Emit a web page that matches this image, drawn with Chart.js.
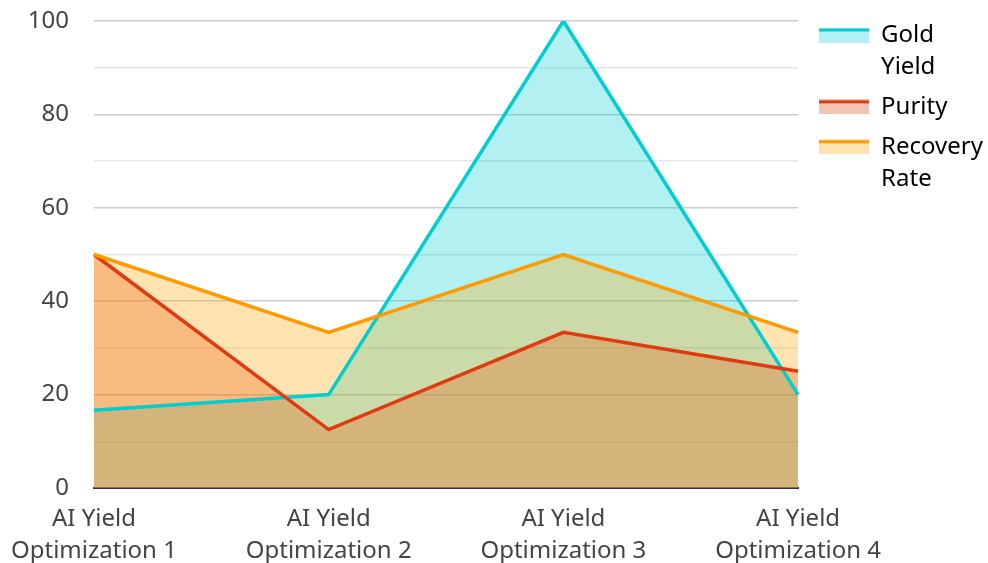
<!DOCTYPE html>
<html>
<head>
<meta charset="utf-8">
<script src="https://cdn.jsdelivr.net/npm/chart.js@4"></script>
<style>
  html, body { margin: 0; padding: 0; background: #fff; }
  #wrap { width: 988px; height: 563px; }
</style>
</head>
<body>
<div id="wrap"><canvas id="chart"></canvas></div>
<script>
var categories = [
    ['AI Yield', 'Optimization 1'],
    ['AI Yield', 'Optimization 2'],
    ['AI Yield', 'Optimization 3'],
    ['AI Yield', 'Optimization 4']
];
var goldYield = [16.67, 20, 100, 20];
var purity = [50, 12.5, 33.33, 25];
var recoveryRate = [50, 33.33, 50, 33.33];
var seriesNames = ['Gold Yield', 'Purity', 'Recovery Rate'];

var lineColors = ['#00CED1', '#E03A10', '#FF9900'];
var fillColors = ['rgba(0,206,209,0.3)', 'rgba(224,58,16,0.3)', 'rgba(255,165,0,0.3)'];

// legend swatch: thick line on top, light fill below
function makeSwatch(line, fill) {
    var c = document.createElement('canvas');
    c.width = 50;
    c.height = 15;
    var g = c.getContext('2d');
    g.fillStyle = fill;
    g.fillRect(0, 0, 50, 15);
    g.fillStyle = line;
    g.fillRect(0, 1, 50, 3);
    return c;
}

// push the legend a bit away from the plot, like the reference
var legendShift = {
    id: 'legendShift',
    afterInit: function (chart) {
        var lg = chart.legend;
        var fit = lg.fit;
        lg.fit = function () {
            fit.call(this);
            this.width += 8;
        };
        var draw = lg.draw;
        lg.draw = function () {
            var c = this.ctx;
            c.save();
            c.translate(13, 15);
            draw.call(this);
            c.restore();
        };
    }
};

Chart.defaults.font.family = '"Noto Sans", "Open Sans", sans-serif';
Chart.defaults.color = '#444';

var ctx = document.getElementById('chart').getContext('2d');
var data = [goldYield, purity, recoveryRate];
var chart = new Chart(ctx, {
    type: 'line',
    data: {
        labels: categories,
        datasets: seriesNames.map(function (name, i) {
            return {
                label: name,
                data: data[i],
                borderColor: lineColors[i],
                backgroundColor: fillColors[i],
                borderWidth: 3.5,
                fill: 'origin',
                tension: 0,
                pointRadius: 0,
                pointHoverRadius: 0,
                order: 3 - i
            };
        })
    },
    plugins: [legendShift],
    options: {
        responsive: true,
        maintainAspectRatio: false,
        animation: false,
        layout: {
            padding: { top: 0, right: 0, left: 0, bottom: 0 }
        },
        scales: {
            x: {
                offset: false,
                grid: { display: false, drawTicks: false },
                border: { display: true, color: '#333', width: 2 },
                ticks: {
                    font: { size: 24, lineHeight: 1.33 },
                    color: '#444',
                    maxRotation: 0,
                    autoSkip: false,
                    padding: 15
                },
                afterFit: function (scale) {
                    scale.height = 75;
                    scale.paddingLeft -= 4;
                }
            },
            y: {
                min: 0,
                max: 100,
                border: { display: false },
                grid: {
                    drawTicks: false,
                    color: function (c) {
                        return c.tick && c.tick.value % 20 === 0 ? '#cccccc' : '#e6e6e6';
                    },
                    lineWidth: 1.5
                },
                ticks: {
                    stepSize: 10,
                    font: { size: 24 },
                    color: '#444',
                    padding: 25,
                    callback: function (value) {
                        return value % 20 === 0 ? value : '';
                    }
                },
                afterFit: function (scale) {
                    scale.paddingTop = 21;
                    scale.paddingBottom = 15;
                }
            }
        },
        plugins: {
            tooltip: { enabled: false },
            filler: { drawTime: 'beforeDatasetsDraw' },
            legend: {
                display: true,
                position: 'right',
                align: 'start',
                labels: {
                    usePointStyle: true,
                    pointStyleWidth: 50,
                    boxHeight: 15,
                    padding: 8,
                    color: '#333',
                    font: { size: 24, lineHeight: 1.33 },
                    generateLabels: function (ch) {
                        return ch.data.datasets.map(function (ds, i) {
                            return {
                                text: ds.label.split(' '),
                                fillStyle: fillColors[i],
                                strokeStyle: lineColors[i],
                                lineWidth: 0,
                                pointStyle: makeSwatch(lineColors[i], fillColors[i]),
                                datasetIndex: i,
                                hidden: false
                            };
                        });
                    }
                }
            }
        }
    }
});
</script>
</body>
</html>
